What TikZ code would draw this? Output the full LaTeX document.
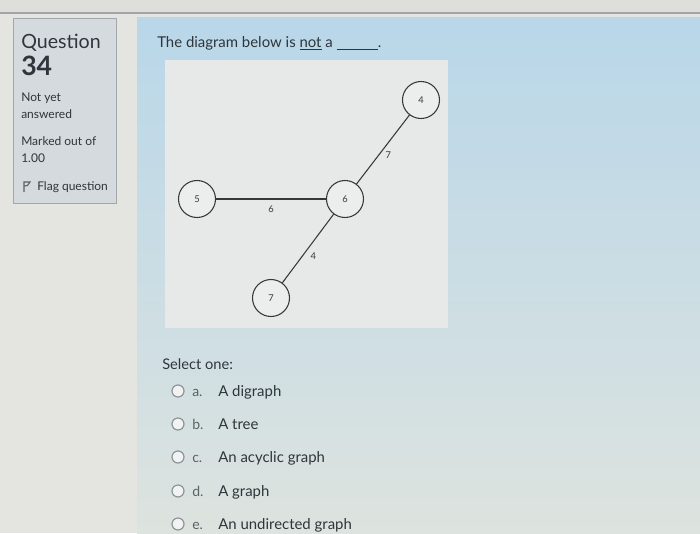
\documentclass[tikz,border=0pt]{standalone}
\usepackage{fontspec}
\setmainfont{Lato}
\usetikzlibrary{positioning}
\definecolor{pagebg}{HTML}{E4E5E1}
\definecolor{topbar}{HTML}{DEDFDB}
\definecolor{topline}{HTML}{A3A6A6}
\definecolor{infofill}{HTML}{D5DADE}
\definecolor{infoline}{HTML}{A2A7AC}
\definecolor{qbluetop}{HTML}{B9D7E9}
\definecolor{qbluemid}{HTML}{CCDFE6}
\definecolor{qbluebot}{HTML}{DDE3DF}
\definecolor{imgbg}{HTML}{E7E9E9}
\definecolor{nodeline}{HTML}{35383A}
\definecolor{nodefill}{HTML}{ECEDED}
\definecolor{ink}{HTML}{2E353C}
\definecolor{softink}{HTML}{5A6168}
\definecolor{radioline}{HTML}{8E949A}
\definecolor{radiofill}{HTML}{F1F3F2}

\begin{document}
\begin{tikzpicture}[x=0.75pt,y=-0.75pt,
  vertex/.style={circle, draw=nodeline, fill=nodefill, line width=0.8pt,
    minimum size=27.75pt, inner sep=0pt, text=nodeline,
    font=\fontsize{7}{8}\selectfont},
  weight/.style={inner sep=1.5pt, text=nodeline, font=\fontsize{7}{8}\selectfont},
  radio/.style={circle, draw=radioline, fill=radiofill, line width=0.9pt,
    minimum size=9pt, inner sep=0pt},
  txt/.style={anchor=base west, inner sep=0pt, text=ink},
  optletter/.style={anchor=base west, inner sep=0pt, text=softink,
    font=\fontsize{10.5}{12}\selectfont},
  opttext/.style={anchor=base west, inner sep=0pt, text=ink,
    font=\fontsize{11.2}{13}\selectfont}]

  % Page and panels
  \useasboundingbox (0,0) rectangle (700,533);
  \fill[pagebg] (0,0) rectangle (700,533);
  \fill[topbar] (0,0) rectangle (700,13);
  \draw[topline, line width=0.8pt] (0,13) -- (700,13);
  \fill[infofill, draw=infoline, line width=0.6pt] (13,18) rectangle (116,203);
  \shade[top color=qbluetop, middle color=qbluemid, bottom color=qbluebot]
    (137,17) rectangle (700,533);
  \fill[imgbg] (165,60) rectangle (448,328);

  % Question info
  \node[txt, font=\fontsize{14.7}{17}\selectfont] (qlabel) at (21,48) {Question};
  \node[txt, font=\bfseries\fontsize{20}{23}\selectfont] (qnum) at (21,75) {34};
  \node[txt, font=\fontsize{9}{11}\selectfont] (state1) at (21,101) {Not yet};
  \node[txt, font=\fontsize{9}{11}\selectfont] (state2) at (21,118) {answered};
  \node[txt, font=\fontsize{9}{11}\selectfont] (mark1) at (21,145) {Marked out of};
  \node[txt, font=\fontsize{9}{11}\selectfont] (mark2) at (21,162) {1.00};
  \node[txt, font=\fontsize{9}{11}\selectfont] (flag) at (37,190) {Flag question};
  \draw[softink, line width=0.8pt] (24,192) -- (24,182) -- (30,182) -- (27.5,185.5) -- (24,186);

  % Question text
  \node[txt, font=\fontsize{11.2}{13}\selectfont] (qtext) at (157,47)
    {The diagram below is \underline{not} a \underline{\hspace{31pt}}.};

  %Define nodes
  \node[vertex] (six) at (345,199) {6};
  \node[vertex, on grid, left=111pt of six] (five) {5};
  \node[vertex, on grid, above right=74.25pt and 57pt of six] (four) {4};
  \node[vertex, on grid, below left=74.25pt and 55.5pt of six] (seven) {7};

  % Connect the nodes
  \draw[nodeline, line width=0.8pt] (five) -- (six) node[weight, midway, below=3.5pt] {6};
  \draw[nodeline, line width=0.8pt] (six) -- (four) node[weight, midway, below right] {7};
  \draw[nodeline, line width=0.8pt] (six) -- (seven) node[weight, midway, below right=1pt and 0pt] {4};

  % Answers
  \node[txt, font=\fontsize{11}{13}\selectfont] (select) at (162,369) {Select one:};
  \node[radio] (ra) at (178,391) {};
  \node[optletter] (la) at (192,396) {a.};
  \node[opttext] (ta) at (218,396) {A digraph};
  \node[radio] (rb) at (178,424) {};
  \node[optletter] (lb) at (192,429) {b.};
  \node[opttext] (tb) at (218,429) {A tree};
  \node[radio] (rc) at (178,457) {};
  \node[optletter] (lc) at (192,462) {c.};
  \node[opttext] (tc) at (218,462) {An acyclic graph};
  \node[radio] (rd) at (178,491) {};
  \node[optletter] (ld) at (192,496) {d.};
  \node[opttext] (td) at (218,496) {A graph};
  \node[radio] (re) at (178,524) {};
  \node[optletter] (le) at (192,529) {e.};
  \node[opttext] (te) at (218,529) {An undirected graph};

\end{tikzpicture}
\end{document}
